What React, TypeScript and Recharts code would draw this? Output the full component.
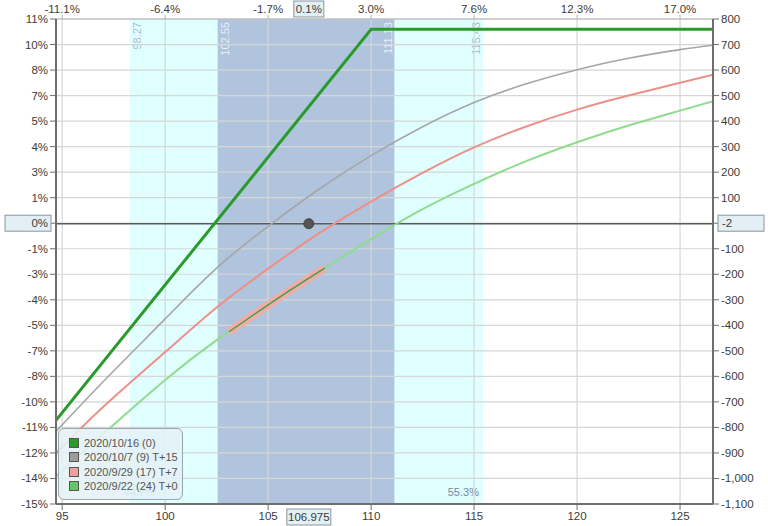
import React from "react";
import {
  CartesianGrid,
  Legend,
  Line,
  LineChart,
  ReferenceArea,
  ReferenceDot,
  ReferenceLine,
  XAxis,
  YAxis,
} from "recharts";

// P&L curves (price -> dollars)
const PRICES = [94.7, 97, 100, 102.5, 105, 107.5, 110, 112.5, 115, 117.5, 120, 122.5, 125, 126.6];
const PNL_T15 = [-816, -620, -375, -176, -12, 135, 265, 378, 473, 545, 601, 646, 680, 697];
const PNL_T7 = [-901, -719, -505, -330, -178, -38, 85, 197, 297, 378, 445, 500, 550, 582];
const PNL_T0 = [-992, -825, -614, -458, -320, -188, -62, 55, 154, 242, 317, 383, 441, 478];

const EXPIRY_PRICES = [94.7, 110, 126.6];
const EXPIRY_PNL = [-772, 760, 760];

// highlighted 1-sd move on the T+0 curve
const RANGE_PRICES = [103.1, 104, 105, 106, 107, 107.75];
const RANGE_PNL = [-425, -375, -320, -266, -214, -176];

const X_TICKS = [95, 100, 105, 110, 115, 120, 125];
const TOP_LABELS = ["-11.1%", "-6.4%", "-1.7%", "3.0%", "7.6%", "12.3%", "17.0%"];
const Y_TICKS = [800, 700, 600, 500, 400, 300, 200, 100, 0, -100, -200, -300, -400, -500, -600, -700, -800, -900, -1000, -1100];
const LEFT_LABELS = ["11%", "10%", "8%", "7%", "5%", "4%", "3%", "1%", "0%", "-1%", "-3%", "-4%", "-5%", "-7%", "-8%", "-10%", "-11%", "-12%", "-14%", "-15%"];

const SPOT = 106.975;
const SPOT_PCT = "0.1%";
const SPOT_PNL = -2;
const OUTER_RANGE = [98.27, 115.43];
const INNER_RANGE = [102.55, 111.13];
const PROB_LABELS = ["44.7%", "55.3%"];

const LEGEND_ITEMS = [
  { label: "2020/10/16 (0)", color: "#2a9a2a" },
  { label: "2020/10/7 (9) T+15", color: "#9c9c9c" },
  { label: "2020/9/29 (17) T+7", color: "#f0a09a" },
  { label: "2020/9/22 (24) T+0", color: "#66c466" },
];

const FONT = "'Liberation Sans', Arial, sans-serif";
const TEXT = "#3c3c3c";
const AXIS = "#6e6e6e";

const rows = PRICES.map((price, i) => ({
  price,
  t15: PNL_T15[i],
  t7: PNL_T7[i],
  t0: PNL_T0[i],
}));
const expiryRows = EXPIRY_PRICES.map((price, i) => ({ price, pnl: EXPIRY_PNL[i] }));
const rangeRows = RANGE_PRICES.map((price, i) => ({ price, pnl: RANGE_PNL[i] }));

function Boxed({ x, y, w, text, anchor }: any) {
  const left = anchor === "end" ? x - w + 3 : anchor === "start" ? x - 3 : x - w / 2;
  const tx = anchor === "end" ? x : anchor === "start" ? x + 1 : x;
  return (
    <g>
      <rect x={left} y={y - 8} width={w} height={16} fill="#e2eff4" stroke="#8a969e" />
      <text x={tx} y={y + 4} textAnchor={anchor} fontSize={11.5} fill={TEXT}>
        {text}
      </text>
    </g>
  );
}

const LeftTick = ({ x, y, payload }: any) => {
  const label = LEFT_LABELS[Y_TICKS.indexOf(payload.value)];
  if (payload.value === 0) return <Boxed x={x} y={y} w={46} text={label} anchor="end" />;
  return (
    <text x={x} y={y + 4} textAnchor="end" fontSize={11.5} fill={TEXT}>
      {label}
    </text>
  );
};

const RightTick = ({ x, y, payload }: any) => {
  if (payload.value === 0) return <Boxed x={x} y={y} w={46} text={String(SPOT_PNL)} anchor="start" />;
  return (
    <text x={x} y={y + 4} textAnchor="start" fontSize={11.5} fill={TEXT}>
      {payload.value.toLocaleString("en-US")}
    </text>
  );
};

function SpotLabels({ viewBox }: any) {
  const { x, y, height } = viewBox;
  return (
    <g>
      <Boxed x={x} y={y - 10} w={30} text={SPOT_PCT} anchor="middle" />
      <Boxed x={x} y={y + height + 13} w={44} text={String(SPOT)} anchor="middle" />
    </g>
  );
}

function VLabel({ x, y, text, color }: any) {
  return (
    <text
      x={x}
      y={y}
      transform={`rotate(-90 ${x} ${y})`}
      textAnchor="end"
      dominantBaseline="central"
      fontSize={11}
      fill={color}
    >
      {text}
    </text>
  );
}

function OuterLabels({ viewBox }: any) {
  const { x, y, width, height } = viewBox;
  const c = "#a9bcd6";
  return (
    <g>
      <VLabel x={x + 7} y={y + 3} text={OUTER_RANGE[0].toFixed(2)} color={c} />
      <VLabel x={x + width - 7} y={y + 3} text={OUTER_RANGE[1].toFixed(2)} color={c} />
      <text x={x - 6} y={y + height - 8} fontSize={11} fill="#8a96b0">
        {PROB_LABELS[0]}
      </text>
      <text x={x + width - 4} y={y + height - 8} textAnchor="end" fontSize={11} fill="#7a86a4">
        {PROB_LABELS[1]}
      </text>
    </g>
  );
}

function InnerLabels({ viewBox }: any) {
  const { x, y, width } = viewBox;
  const c = "#e8eef8";
  return (
    <g>
      <VLabel x={x + 7} y={y + 3} text={INNER_RANGE[0].toFixed(2)} color={c} />
      <VLabel x={x + width - 6} y={y + 3} text={INNER_RANGE[1].toFixed(2)} color={c} />
    </g>
  );
}

function LegendBox() {
  return (
    <div
      style={{
        width: 125,
        height: 72,
        boxSizing: "border-box",
        padding: "7px 0 0 10px",
        background: "rgba(228,241,246,0.88)",
        border: "1px solid #9aa6ae",
        borderRadius: 6,
        fontFamily: FONT,
        fontSize: 11,
        lineHeight: "14px",
        color: "#555",
      }}
    >
      {LEGEND_ITEMS.map((item) => (
        <div key={item.label} style={{ display: "flex", alignItems: "center", height: 14.3, whiteSpace: "nowrap" }}>
          <span
            style={{
              display: "inline-block",
              width: 8,
              height: 8,
              marginRight: 5,
              flex: "none",
              background: item.color,
              border: "1px solid #555",
            }}
          />
          {item.label}
        </div>
      ))}
    </div>
  );
}

export default function App() {
  return (
    <div style={{ position: "absolute", left: 0, top: 0 }}>
      <LineChart
        width={768}
        height={526}
        data={rows}
        margin={{ top: 0, right: 0, bottom: 0, left: 0 }}
        style={{ fontFamily: FONT, background: "#fff" }}
      >
        <XAxis
          xAxisId="price"
          dataKey="price"
          type="number"
          domain={[94.7, 126.6]}
          ticks={X_TICKS}
          interval={0}
          allowDataOverflow
          height={22}
          axisLine={{ stroke: AXIS, strokeWidth: 2 }}
          tickLine={{ stroke: AXIS }}
          tick={{ fontSize: 11.5, fill: TEXT }}
        />
        <XAxis
          xAxisId="pct"
          orientation="top"
          dataKey="price"
          type="number"
          domain={[94.7, 126.6]}
          ticks={X_TICKS}
          interval={0}
          allowDataOverflow
          height={19}
          axisLine={{ stroke: "#b4b4b4" }}
          tickLine={{ stroke: "#b4b4b4" }}
          tickSize={4}
          tick={{ fontSize: 11.5, fill: TEXT }}
          tickFormatter={(v: number) => TOP_LABELS[X_TICKS.indexOf(v)]}
        />
        <YAxis
          yAxisId="pnl"
          type="number"
          domain={[-1100, 800]}
          ticks={Y_TICKS}
          interval={0}
          allowDataOverflow
          width={56}
          axisLine={{ stroke: AXIS, strokeWidth: 2 }}
          tickLine={{ stroke: AXIS }}
          tick={<LeftTick />}
        />
        <YAxis
          yAxisId="pnlRight"
          orientation="right"
          type="number"
          domain={[-1100, 800]}
          ticks={Y_TICKS}
          interval={0}
          allowDataOverflow
          width={55}
          axisLine={{ stroke: AXIS, strokeWidth: 2 }}
          tickLine={{ stroke: AXIS }}
          tick={<RightTick />}
        />

        <ReferenceArea
          xAxisId="price"
          yAxisId="pnl"
          x1={OUTER_RANGE[0]}
          x2={OUTER_RANGE[1]}
          fill="#e0ffff"
          fillOpacity={1}
          stroke="none"
          label={(p: any) => <OuterLabels viewBox={p.viewBox} />}
        />
        <ReferenceArea
          xAxisId="price"
          yAxisId="pnl"
          x1={INNER_RANGE[0]}
          x2={INNER_RANGE[1]}
          fill="#b0c4de"
          fillOpacity={1}
          stroke="none"
          label={(p: any) => <InnerLabels viewBox={p.viewBox} />}
        />
        <CartesianGrid xAxisId="price" yAxisId="pnl" stroke="#d6d6d6" strokeWidth={1.2} zIndex={150} />

        <ReferenceLine xAxisId="price" yAxisId="pnl" y={SPOT_PNL} stroke="#5a5a5a" strokeWidth={1.6} />
        <ReferenceLine
          xAxisId="price"
          yAxisId="pnl"
          x={SPOT}
          stroke="none"
          label={(p: any) => <SpotLabels viewBox={p.viewBox} />}
        />

        <Line xAxisId="price" yAxisId="pnl" type="natural" dataKey="t0" stroke="#8fdc8f" strokeWidth={2} dot={false} activeDot={false} isAnimationActive={false} />
        <Line xAxisId="price" yAxisId="pnl" type="natural" dataKey="t7" stroke="#ee8f88" strokeWidth={2} dot={false} activeDot={false} isAnimationActive={false} />
        <Line xAxisId="price" yAxisId="pnl" type="natural" dataKey="t15" stroke="#a6a6a6" strokeWidth={1.6} dot={false} activeDot={false} isAnimationActive={false} />
        <Line xAxisId="price" yAxisId="pnl" data={rangeRows} type="natural" dataKey="pnl" stroke="#f4aaa4" strokeOpacity={0.95} strokeWidth={8} dot={false} activeDot={false} isAnimationActive={false} />
        <Line xAxisId="price" yAxisId="pnl" data={rangeRows} type="natural" dataKey="pnl" stroke="#3f9f3f" strokeWidth={1.3} dot={false} activeDot={false} isAnimationActive={false} />
        <Line xAxisId="price" yAxisId="pnl" data={expiryRows} type="linear" dataKey="pnl" stroke="#2a9a2a" strokeWidth={3} dot={false} activeDot={false} isAnimationActive={false} />

        <ReferenceDot xAxisId="price" yAxisId="pnl" x={SPOT} y={SPOT_PNL} r={5} fill="#555" stroke="#444" />

        <Legend
          layout="horizontal"
          verticalAlign="middle"
          align="center"
          wrapperStyle={{ left: 58, top: 428, width: 125, height: 72 }}
          content={() => <LegendBox />}
        />
      </LineChart>
    </div>
  );
}
